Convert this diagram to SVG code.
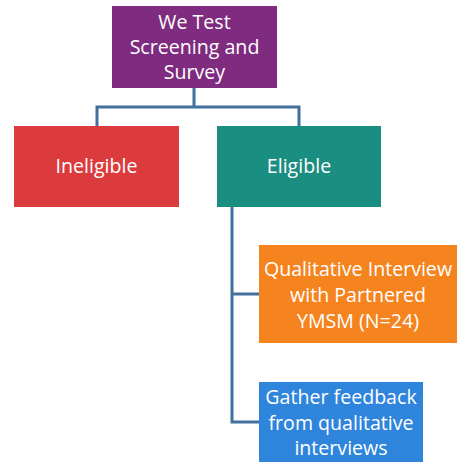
<svg xmlns="http://www.w3.org/2000/svg" width="474" height="474" viewBox="0 0 474 474">
<style>
.t{font-family:"Open Sans","Liberation Sans",sans-serif;font-size:19.6px;fill:#fff;text-anchor:middle}
.c{fill:none;stroke:#41719C;stroke-width:3}
</style>
<rect width="474" height="474" fill="#fff"/>
<g id="connectors">
<path class="c" d="M194 88V107H97V126M194 107H299V126"/>
<path class="c" d="M232 207V422H259M232 294H259"/>
</g>
<g id="screening">
<rect x="112" y="6" width="165" height="82" fill="#7E2B80"/>
<text class="t" x="194.5" y="29">We Test</text>
<text class="t" x="194.5" y="54">Screening and</text>
<text class="t" x="194.5" y="79">Survey</text>
</g>
<g id="ineligible">
<rect x="14" y="126" width="165" height="81" fill="#DB3B3D"/>
<text class="t" x="96.5" y="173">Ineligible</text>
</g>
<g id="eligible">
<rect x="217" y="126" width="164" height="81" fill="#1A8E80"/>
<text class="t" x="299" y="173">Eligible</text>
</g>
<g id="qualitative">
<rect x="259" y="245" width="198" height="98" fill="#F5841F"/>
<text class="t" x="358" y="276">Qualitative Interview</text>
<text class="t" x="358" y="302">with Partnered</text>
<text class="t" x="358" y="328">YMSM (N=24)</text>
</g>
<g id="feedback">
<rect x="259" y="382" width="164" height="80" fill="#2F85DC"/>
<text class="t" x="341" y="404">Gather feedback</text>
<text class="t" x="341" y="430">from qualitative</text>
<text class="t" x="341" y="455">interviews</text>
</g>
</svg>
